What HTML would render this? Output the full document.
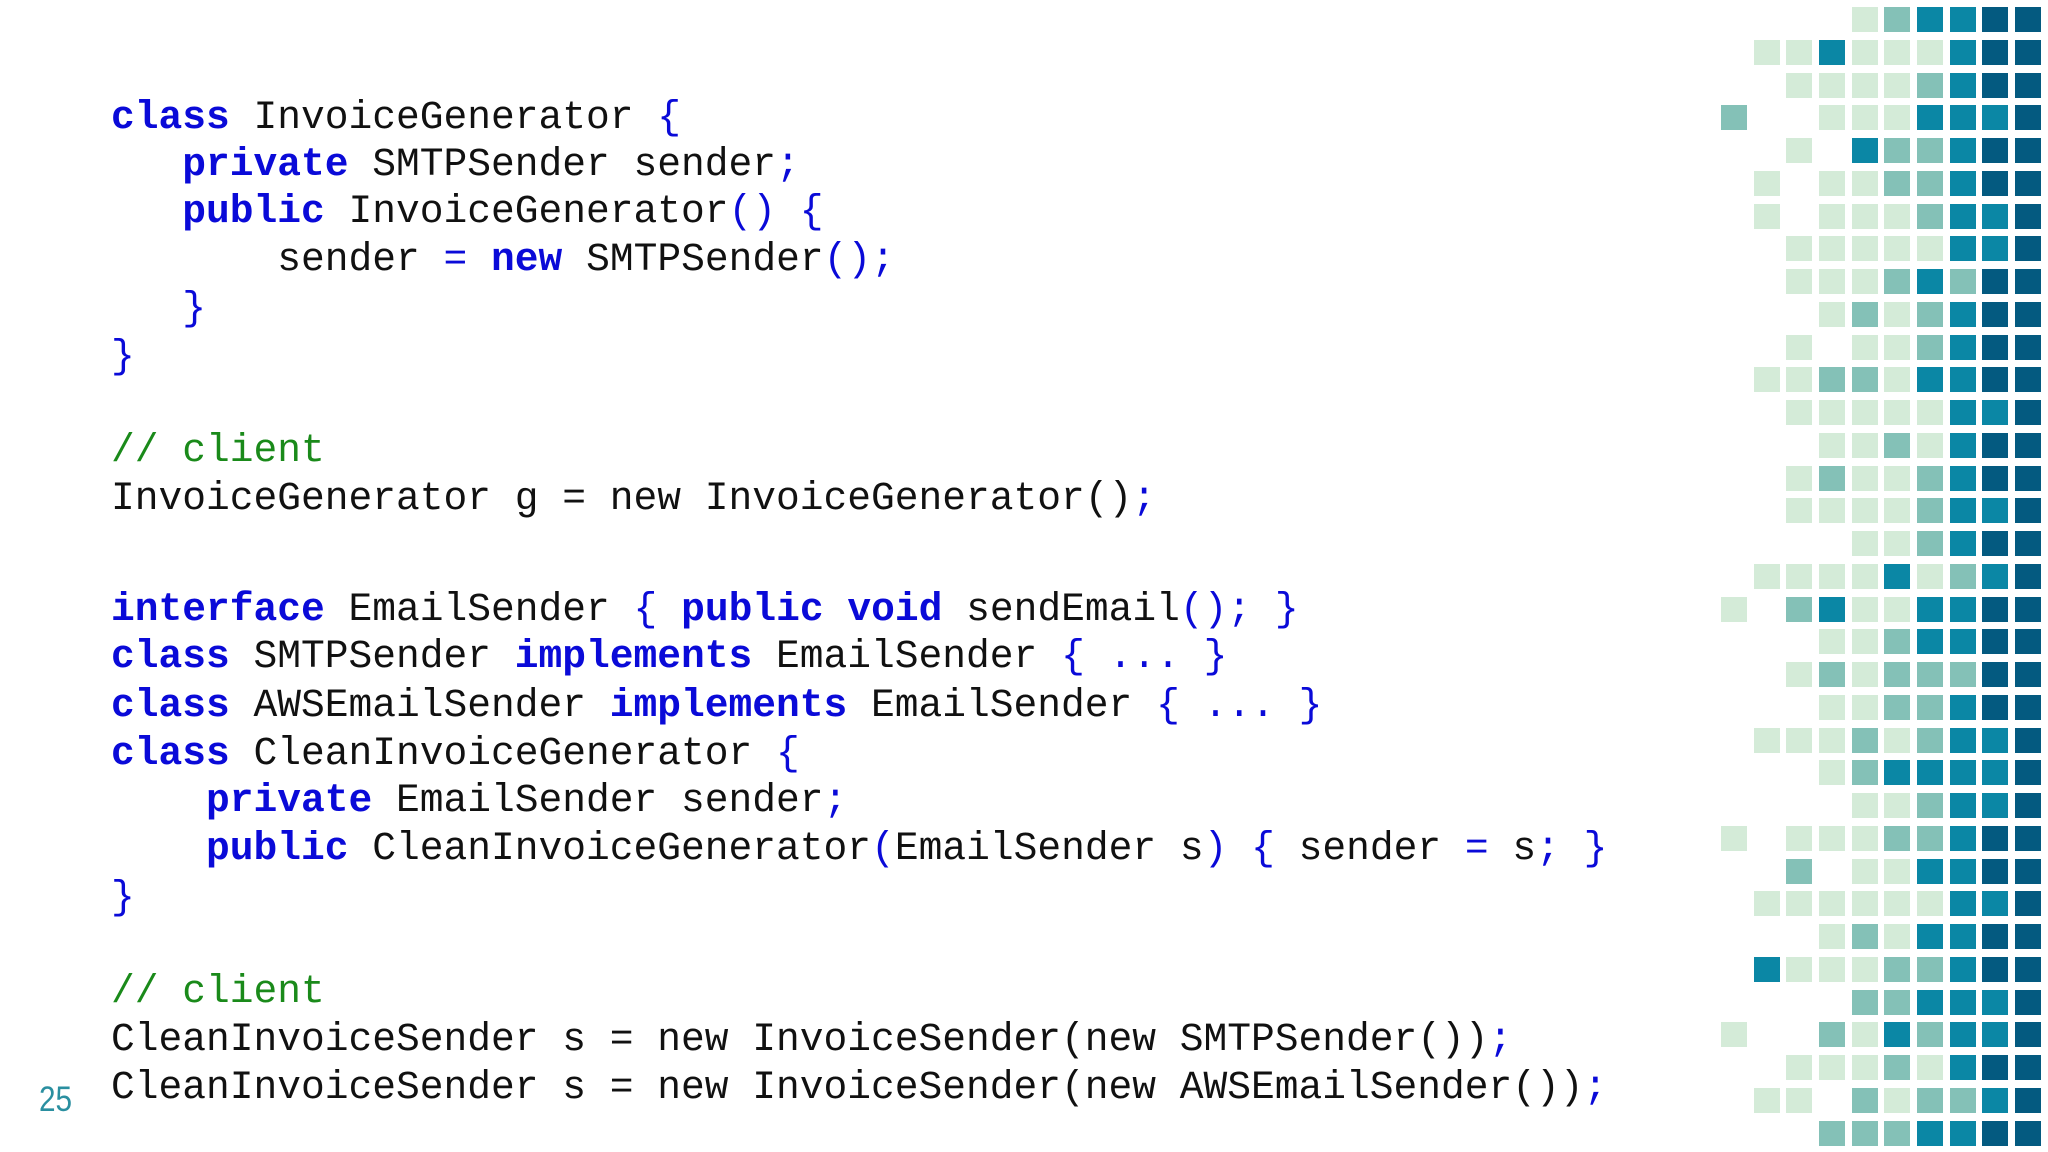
<!DOCTYPE html>
<html><head><meta charset="utf-8">
<style>
html,body{margin:0;padding:0;background:#fff;}
#p{position:relative;width:2048px;height:1152px;overflow:hidden;background:#fff;}
.l{position:absolute;left:111px;font-family:"Liberation Mono",monospace;font-size:39.6px;line-height:48px;height:48px;white-space:pre;color:#111;}
.k{color:#0a0ad8;}
.b{color:#0a0ad8;font-weight:bold;}
.c{color:#1a8a1a;}
.n{position:absolute;left:39px;top:1080px;font-family:"Liberation Sans",sans-serif;font-size:35px;color:#2a8fa0;transform:scaleX(0.85);transform-origin:left;}
.q{position:absolute;width:26px;height:25px;}
</style></head><body><div id="p">
<div class="l" style="top:94px"><span class="b">class</span> InvoiceGenerator <span class="k">{</span></div>
<div class="l" style="top:141px">   <span class="b">private</span> SMTPSender sender<span class="k">;</span></div>
<div class="l" style="top:188px">   <span class="b">public</span> InvoiceGenerator<span class="k">() {</span></div>
<div class="l" style="top:236px">       sender <span class="k">=</span> <span class="b">new</span> SMTPSender<span class="k">();</span></div>
<div class="l" style="top:285px">   <span class="k">}</span></div>
<div class="l" style="top:333px"><span class="k">}</span></div>
<div class="l" style="top:427px"><span class="c">// client</span></div>
<div class="l" style="top:475px">InvoiceGenerator g = new InvoiceGenerator()<span class="k">;</span></div>
<div class="l" style="top:586px"><span class="b">interface</span> EmailSender <span class="k">{</span> <span class="b">public void</span> sendEmail<span class="k">(); }</span></div>
<div class="l" style="top:633px"><span class="b">class</span> SMTPSender <span class="b">implements</span> EmailSender <span class="k">{ ... }</span></div>
<div class="l" style="top:682px"><span class="b">class</span> AWSEmailSender <span class="b">implements</span> EmailSender <span class="k">{ ... }</span></div>
<div class="l" style="top:730px"><span class="b">class</span> CleanInvoiceGenerator <span class="k">{</span></div>
<div class="l" style="top:777px">    <span class="b">private</span> EmailSender sender<span class="k">;</span></div>
<div class="l" style="top:825px">    <span class="b">public</span> CleanInvoiceGenerator<span class="k">(</span>EmailSender s<span class="k">) {</span> sender <span class="k">=</span> s<span class="k">; }</span></div>
<div class="l" style="top:874px"><span class="k">}</span></div>
<div class="l" style="top:968px"><span class="c">// client</span></div>
<div class="l" style="top:1016px">CleanInvoiceSender s = new InvoiceSender(new SMTPSender())<span class="k">;</span></div>
<div class="l" style="top:1064px">CleanInvoiceSender s = new InvoiceSender(new AWSEmailSender())<span class="k">;</span></div>
<div class="n">25</div>
<div id="g"></div>
</div>
<script>
var rows=["....LMTTDD",".LLTLLLTDD","..LLLLMTDD","M..LLLTTTD","..L.TMMTDD",".L.LLMMTDD",".L.LLLMTTD","..LLLLLTTD","..LLLMTMDD","...LMLMTDD","..L.LLMTDD",".LLMMLTTDD","..LLLLLTTD","...LLMLTDD","..LMLLMTDD","..LLLLMTTD","....LLMTDD",".LLLLTLMTD","L.MTLLTTDD","...LLMTTDD","..LMLMMMDD","...LLMMTDD",".LLLMLMTTD","...LMTTTTD","....LLMTTD","L.LLLMMTDD","..M.LLTTDD",".LLLLLLTTD","...LMLTTDD",".TLLLMMTDD","....MMTTTD","L..MLTMTTD","..LLLMLTDD",".LL.MLMMTD","...MMMTTDD"];
var col={L:"#d4ebd8",M:"#84c1b7",T:"#0b87a5",D:"#045a80"};
var h="";
for(var r=0;r<rows.length;r++)for(var c=0;c<10;c++){var ch=rows[r][c];if(ch=="."||!ch)continue;
var x=Math.round(1721+32.65*c),y=Math.round(7+32.75*r);
h+='<div class="q" style="left:'+x+'px;top:'+y+'px;background:'+col[ch]+'"></div>';}
document.getElementById("g").innerHTML=h;
</script>
</body></html>
